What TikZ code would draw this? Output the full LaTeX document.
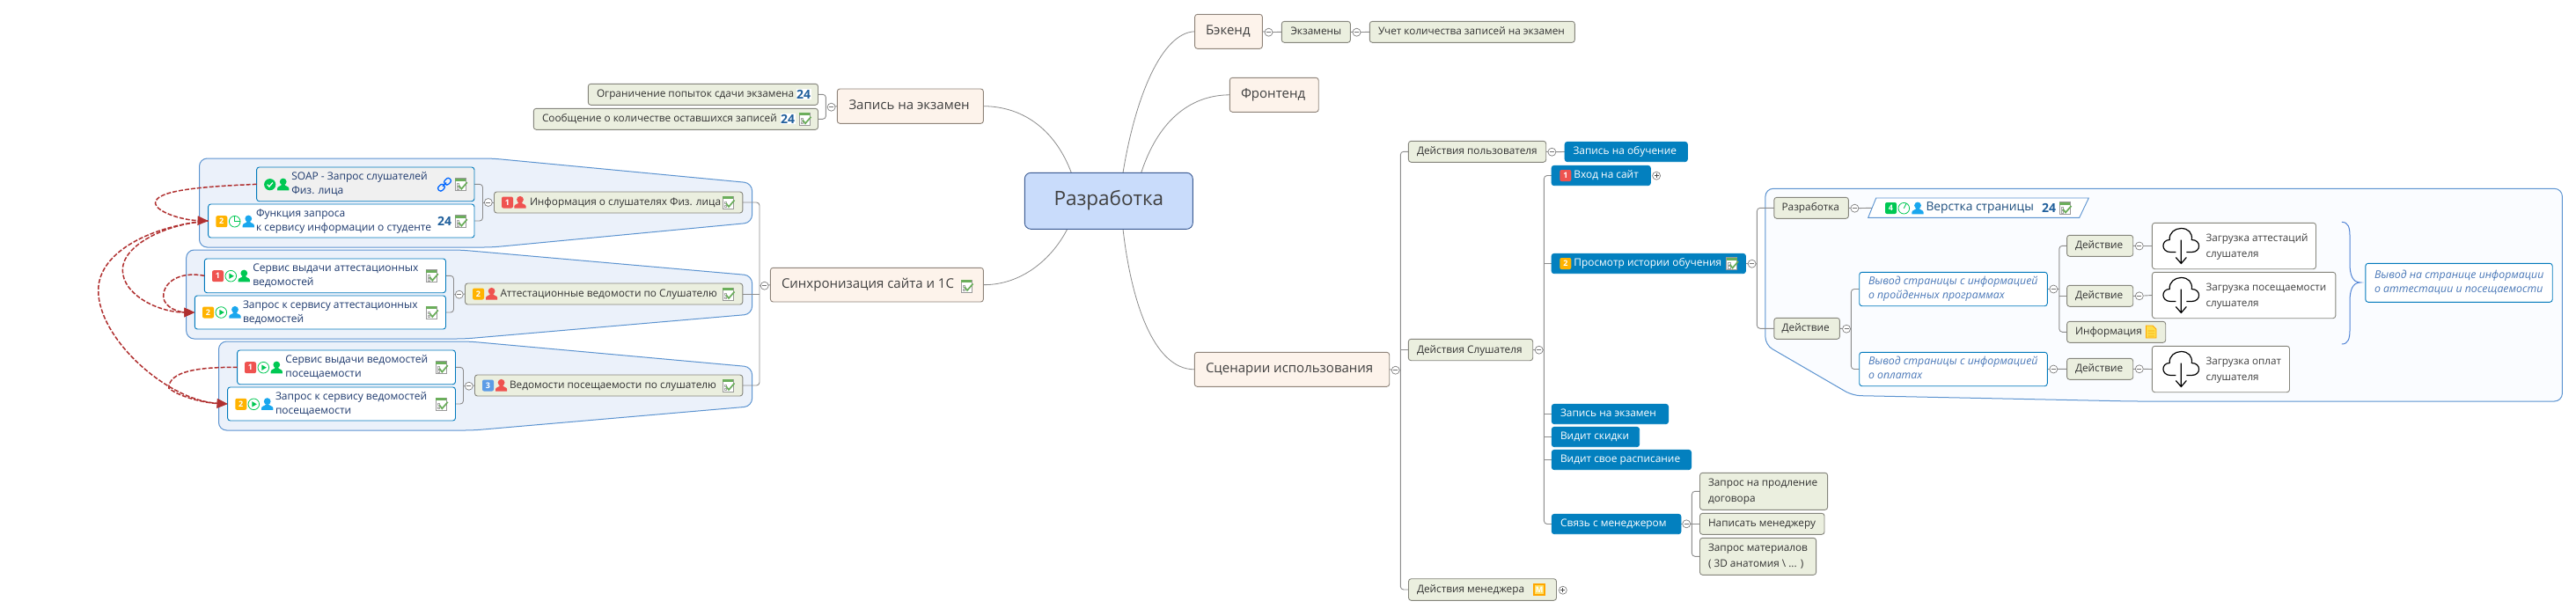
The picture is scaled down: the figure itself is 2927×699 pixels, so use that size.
\documentclass[tikz,border=0pt]{standalone}
\usepackage{fontspec}
\setmainfont{Open Sans}
\usetikzlibrary{arrows.meta}
\definecolor{grpfill}{HTML}{EBF1FA}
\definecolor{grpline}{HTML}{5B93D0}
\definecolor{bigfill}{HTML}{FAFCFF}
\definecolor{greenfill}{HTML}{EBEFDF}
\definecolor{greenline}{HTML}{85857C}
\definecolor{topfill}{HTML}{FDF3EB}
\definecolor{topline}{HTML}{8F847A}
\definecolor{mainfill}{HTML}{C9DCFB}
\definecolor{mainline}{HTML}{3A5A92}
\definecolor{bluefill}{HTML}{0380BF}
\definecolor{whiteline}{HTML}{0079BC}
\definecolor{navy}{HTML}{1E3A6E}
\definecolor{itblue}{HTML}{4A78B8}
\definecolor{linkc}{HTML}{8C8C8C}
\definecolor{redarrow}{HTML}{B03030}
\definecolor{cred}{HTML}{EF5350}
\definecolor{corange}{HTML}{FFB300}
\definecolor{cblue}{HTML}{5C9CE6}
\definecolor{cgreen}{HTML}{00C853}
\definecolor{psky}{HTML}{1AA7EE}
\definecolor{num}{HTML}{21609C}
\definecolor{taskg}{HTML}{6BAE5B}
\pgfdeclarelayer{grp}\pgfdeclarelayer{lnk}
\pgfsetlayers{grp,lnk,main}
\newcounter{icn}
\newcommand\fsz[2]{\fontsize{#1}{#2}\selectfont}
\tikzset{
  anybox/.style={draw,line width=0.9pt,rounded corners=3pt,outer sep=0pt},
  greenbox/.style={anybox,fill=greenfill,draw=greenline,text=black!80,font=\fsz{11.8}{18}},
  leafbox/.style={anybox,fill=white,draw=greenline,text=black!75,font=\fsz{11.7}{18}},
  topbox/.style={anybox,fill=topfill,draw=topline,text=black!75,font=\fsz{15}{18}},
  mainbox/.style={anybox,fill=mainfill,draw=mainline,text=black!75,rounded corners=7pt,font=\fsz{22.5}{26}},
  bluebox/.style={anybox,fill=bluefill,draw=bluefill,text=white,font=\fsz{11.9}{16}},
  whitebox/.style={anybox,fill=white,draw=whiteline,text=navy,font=\fsz{12}{16}},
  greybox/.style={whitebox,fill=black!6},
  itbox/.style={whitebox,text=itblue,font=\fsz{12.3}{16}\itshape},
  conn/.style={draw=linkc,line width=0.9pt,rounded corners=3.5pt},
  curve/.style={draw=linkc,line width=0.8pt},
  grpshape/.style={fill=grpfill,draw=grpline,line width=1pt,rounded corners=9pt},
  bigshape/.style={fill=bigfill,draw=grpline,line width=1pt,rounded corners=9pt},
  redlink/.style={draw=redarrow,line width=1.5pt,dash pattern=on 5pt off 2pt,-{Triangle[length=12pt,width=10.5pt,fill=redarrow]}},
  collapse/.style={circle,draw=black!50,fill=white,line width=0.7pt,minimum size=9pt,inner sep=0pt,outer sep=0pt},
}
\newcommand\bx[8]{%
  \pgfmathsetmacro\bxW{#4-#2}\pgfmathsetmacro\bxH{#5-#3}%
  \pgfmathsetmacro\bxX{(#2+#4)/2}\pgfmathsetmacro\bxY{(#3+#5)/2}\pgfmathsetmacro\bxP{#6-#2}%
  \node[#7,minimum width=\bxW pt,minimum height=\bxH pt,inner xsep=0pt,inner ysep=0pt] (#1) at (\bxX,\bxY) {\makebox[\bxW pt][l]{\hspace*{\bxP pt}\raisebox{-0.6pt}{\begin{tabular}{@{}l@{}}#8\end{tabular}}}};}
\newcommand\cminus[3]{\node[collapse] (#1) at (#2,#3) {};\draw[black!55,line width=0.8pt] (#2-2.5,#3) -- (#2+2.5,#3);}
\newcommand\cplus[3]{\node[collapse] (#1) at (#2,#3) {};\draw[black!70,line width=0.8pt] (#2-2.5,#3) -- (#2+2.5,#3) (#2,#3-2.5) -- (#2,#3+2.5);}
\newcommand\icPrio[4]{\stepcounter{icn}\node[fill=#4,rounded corners=2pt,minimum size=13pt,inner sep=0pt,text=white,font=\fsz{9}{9}\bfseries] (ic\arabic{icn}) at (#1+6.5,#2) {#3};}
\newcommand\icPerson[3]{\fill[#3] (#1,#2-3.2) circle (3.9);\fill[#3] (#1-6.6,#2+6.6) -- (#1-6.6,#2+4.4) .. controls (#1-6.6,#2+2) and (#1-2.2,#2+2) .. (#1-1.6,#2) -- (#1+1.6,#2) .. controls (#1+2.2,#2+2) and (#1+6.6,#2+2) .. (#1+6.6,#2+4.4) -- (#1+6.6,#2+6.6) -- cycle;}
\newcommand\icTask[2]{\begin{scope}[shift={(#1,#2)}]
  \fill[white] (0,-7) rectangle (12,7);\draw[black!40,line width=0.8pt] (0,-7) rectangle (12,7);
  \fill[taskg] (0,-7) rectangle (12,-4);
  \draw[black!35,line width=0.7pt] (2,-1) rectangle (4.5,1.5) (2,3) rectangle (4.5,5.5);
  \draw[taskg,line width=1.7pt] (4,1) -- (7,5) -- (13.5,-2.5);
\end{scope}}
\newcommand\icPlay[2]{\draw[cgreen,line width=0.8pt,fill=white] (#1,#2) circle (6.3);\fill[cgreen] (#1-2,#2-3.2) -- (#1+3.5,#2) -- (#1-2,#2+3.2) -- cycle;}
\newcommand\icClock[2]{\draw[cgreen,line width=0.8pt,fill=white] (#1,#2) circle (6.3);\draw[cgreen,line width=0.8pt] (#1,#2-6.3) -- (#1,#2) -- (#1+6.3,#2);}
\newcommand\icClockB[2]{\draw[cgreen,line width=0.8pt,fill=white] (#1,#2) circle (6.3);\draw[cgreen,line width=0.8pt] (#1+2.8,#2-5.6) -- (#1,#2);}
\newcommand\icCheck[2]{\fill[cgreen] (#1,#2) circle (6.6);\draw[white,line width=1.3pt] (#1-3,#2) -- (#1-0.8,#2+2.3) -- (#1+3.2,#2-2.2);}
\newcommand\icTF[2]{\stepcounter{icn}\node[fill=white,inner sep=0.5pt,text=num,font=\fsz{14}{14}\bfseries] (ic\arabic{icn}) at (#1,#2) {24};}
\newcommand\icLink[2]{\begin{scope}[shift={(#1,#2)},rotate=45]
  \draw[blue!60!cyan,line width=1.3pt,rounded corners=2.5pt] (-1,-3) rectangle (-9,3);
  \draw[blue!60!cyan,line width=1.3pt,rounded corners=2.5pt] (1,-3) rectangle (9,3);
  \draw[blue!60!cyan,line width=1.3pt] (-3,0) -- (3,0);
\end{scope}}
\newcommand\icCloud[2]{\begin{scope}[shift={(#1,#2)}]
  \draw[black,line width=1.2pt,line join=round] (-6,7) -- (-12,7) .. controls (-23,7) and (-23,-7) .. (-13,-7) .. controls (-14,-15) and (-7,-20) .. (0,-20) .. controls (8,-20) and (13,-15) .. (12,-7) .. controls (23,-7) and (23,7) .. (12,7) -- (6,7);
  \draw[black,line width=1.2pt,line join=round] (0,-7) -- (0,20) (-6,13) -- (0,20) -- (6,13);
\end{scope}}
\begin{document}
\begin{tikzpicture}[x=1pt,y=-1pt]
\useasboundingbox (0,0) rectangle (2927,699);
% ---- groups
\begin{pgfonlayer}{grp}
\fill[white] (0,0) rectangle (2927,699);
\path[grpshape] (226.5,180) -- (559,180) -- (854.6,208) -- (854.6,253) -- (559,281) -- (226.5,281) -- cycle;
\path[grpshape] (211.7,284) -- (523,284) -- (854.6,313) -- (854.6,357) -- (528,385) -- (211.7,385) -- cycle;
\path[grpshape] (248.5,388) -- (533,388) -- (854.6,417) -- (854.6,461.7) -- (537.5,489) -- (248.5,489) -- cycle;
\path[bigshape] (2005.9,214.3) -- (2911.4,214.3) -- (2911.4,456) -- (2422,456) -- (2105,449.5) -- (2005.9,392) -- cycle;
\end{pgfonlayer}
% ---- central
\bx{main}{1164.3}{196.3}{1355.3}{260.3}{1197.5}{mainbox}{Разработка}
\coordinate (mA) at (1217.3,196.3);
\coordinate (mB) at (1212.7,260.3);
\coordinate (mC) at (1276,196.3);
\coordinate (mD) at (1296.7,196.3);
\coordinate (mE) at (1276,260.3);
% ---- left branch exam
\bx{zap}{951.3}{101}{1117.4}{140.3}{964.5}{topbox}{Запись на экзамен}
\bx{ogr}{668.3}{95.3}{929.5}{119.3}{678}{greenbox}{Ограничение попыток сдачи экзамена}
\bx{soob}{606.3}{123.3}{929.5}{147.3}{616}{greenbox}{Сообщение о количестве оставшихся записей}
\icTF{913}{107}
\icTF{895}{135}
\icTask{908}{135.3}
\cminus{cZap}{944.6}{121.7}
\coordinate (bZap) at (938.4,121.7);
% ---- sync branch
\bx{syn}{875.4}{304.3}{1117.4}{343}{888}{topbox}{Синхронизация сайта и 1С}
\icTask{1092}{325}
\cminus{cSyn}{868.7}{324.7}
\coordinate (tSyn) at (863,324.7);
\bx{inf}{561.5}{218}{843.8}{242}{602}{greenbox}{Информация о слушателях Физ. лица}
\icPrio{570}{230}{1}{cred}\icPerson{591}{230}{cred}\icTask{821}{230}
\bx{att}{528.5}{322}{843.8}{346}{568.7}{greenbox}{Аттестационные ведомости по Слушателю}
\icPrio{537}{334}{2}{corange}\icPerson{558.6}{334}{cred}\icTask{821}{334}
\bx{ved}{539.5}{426}{843.8}{450}{579}{greenbox}{Ведомости посещаемости по слушателю}
\icPrio{548}{438}{3}{cblue}\icPerson{569.6}{438}{cred}\icTask{821}{438}
\cminus{cInf}{554.8}{230}\coordinate (bInf) at (548.5,230);
\cminus{cAtt}{521.8}{334.7}\coordinate (bAtt) at (515.5,334.7);
\cminus{cVed}{532.8}{438.7}\coordinate (bVed) at (526.5,438.7);
\bx{soap}{291.6}{190}{539}{228.7}{331.3}{greybox}{SOAP - Запрос слушателей\\Физ. лица}
\icCheck{306.7}{209.7}\icPerson{321.7}{209.7}{cgreen}\icLink{505}{209.7}\icTask{517.3}{209.7}
\bx{funk}{236.6}{232}{539}{270}{291}{whitebox}{Функция запроса\\к сервису информации о студенте}
\icPrio{245.3}{251.7}{2}{corange}\icClock{266.7}{251.7}\icPerson{282.3}{251.7}{psky}\icTF{505}{251}\icTask{517.3}{251.7}
\bx{serA}{232.3}{294}{506.5}{332.7}{287.3}{whitebox}{Сервис выдачи аттестационных\\ведомостей}
\icPrio{241}{313.7}{1}{cred}\icPlay{262.3}{313.7}\icPerson{277.3}{313.7}{cgreen}\icTask{484.3}{313.7}
\bx{zapA}{221.3}{336}{506.5}{374}{276}{whitebox}{Запрос к сервису аттестационных\\ведомостей}
\icPrio{230}{355}{2}{corange}\icPlay{251.3}{355}\icPerson{267}{355}{psky}\icTask{484.3}{355}
\bx{serB}{269.6}{398}{517.5}{436.7}{324.3}{whitebox}{Сервис выдачи ведомостей\\посещаемости}
\icPrio{278}{417.7}{1}{cred}\icPlay{299.3}{417.7}\icPerson{314.3}{417.7}{cgreen}\icTask{495.3}{417.7}
\bx{zapB}{258.6}{440}{517.5}{478}{313}{whitebox}{Запрос к сервису ведомостей\\посещаемости}
\icPrio{267.3}{459.3}{2}{corange}\icPlay{288.3}{459.3}\icPerson{303.7}{459.3}{psky}\icTask{495.3}{459.3}
% ---- back / front
\bx{bek}{1357.6}{16.3}{1434.4}{55.3}{1370}{topbox}{Бэкенд}
\cminus{cBek}{1441.5}{36.7}
\bx{ekz}{1456.3}{24.3}{1534.4}{48.3}{1466.5}{greenbox}{Экзамены}
\cminus{cEkz}{1541.5}{36.7}
\bx{uch}{1556.3}{24.3}{1789.3}{48.3}{1566}{greenbox}{Учет количества записей на экзамен}
\bx{fro}{1397.3}{88.3}{1498.2}{127.3}{1410}{topbox}{Фронтенд}
% ---- scenarios
\bx{sce}{1357.3}{400.3}{1578.7}{439.3}{1370}{topbox}{Сценарии использования}
\cminus{cSce}{1585.7}{420.7}
\coordinate (t1) at (1591.3,420.7);
\bx{dp}{1600.4}{160.3}{1756.7}{184.3}{1610}{greenbox}{Действия пользователя}
\cminus{cDp}{1763.4}{172.7}
\bx{zo}{1778.1}{161.3}{1917.4}{183.7}{1787.5}{bluebox}{Запись на обучение}
\bx{ds}{1600.3}{385.3}{1741.7}{409.7}{1610}{greenbox}{Действия Слушателя}
\cminus{cDs}{1748.7}{397.7}
\coordinate (t2) at (1754.4,397.7);
\bx{dm}{1600.5}{657.7}{1768.5}{682.3}{1610}{greenbox}{Действия менеджера}
\cplus{cDm}{1775.8}{670.7}
\fill[orange!70!yellow] (1742,663) rectangle (1756,677);
\node[fill=orange!40!yellow!60,minimum size=10pt,inner sep=0pt,text=white,font=\fsz{9}{9}\bfseries] (icM) at (1749,670) {M};
\bx{vh}{1763}{188.3}{1875.4}{210.7}{1788.4}{bluebox}{Вход на сайт}
\icPrio{1772.3}{199.5}{1}{cred}
\cplus{cVh}{1882.1}{199.7}
\bx{pr}{1763}{288.3}{1983.5}{310.7}{1788.4}{bluebox}{Просмотр истории обучения}
\icPrio{1772.3}{299.5}{2}{corange}\icTask{1961.6}{299.5}
\cminus{cPr}{1990.6}{299.7}
\coordinate (t3) at (1996.4,299.7);
\bx{ze}{1763.2}{459.3}{1895.6}{481.7}{1773}{bluebox}{Запись на экзамен}
\bx{vs}{1763.2}{485.3}{1862.7}{507.7}{1773}{bluebox}{Видит скидки}
\bx{vr}{1763.2}{511.3}{1921.6}{533.7}{1773}{bluebox}{Видит свое расписание}
\bx{sv}{1763.2}{584.3}{1910}{606.7}{1773}{bluebox}{Связь с менеджером}
\cminus{cSv}{1916.2}{595.3}
\coordinate (bSv) at (1922.4,595.3);
\bx{zp}{1931.5}{537.3}{2076.6}{579.3}{1941}{greenbox}{Запрос на продление\\договора}
\bx{nm}{1931.5}{583.3}{2073}{607.3}{1941}{greenbox}{Написать менеджеру}
\bx{zm}{1931.5}{611.3}{2063.6}{653.3}{1941}{greenbox}{Запрос материалов\\( 3D анатомия \textbackslash\ ... )}
% ---- big group contents
\bx{raz}{2015.8}{224.3}{2100.4}{248.3}{2024.6}{greenbox}{Разработка}
\cminus{cRaz}{2107.4}{236.7}
\coordinate (verW) at (2127.2,236.3);
\path[draw=grpline,fill=white,line width=0.9pt] (2131.7,225) -- (2373.3,225) -- (2362.7,247.3) -- (2122.7,247.3) -- cycle;
\node[anchor=west,inner sep=0pt,text=num!80!black,font=\fsz{13.8}{16}] (verT) at (2188.3,236.3) {Верстка страницы};
\icPrio{2142}{236.5}{4}{cgreen}\icClockB{2163.3}{236.7}\icPerson{2179}{236.7}{psky}\icTF{2328}{236}\icTask{2340}{236.5}
\bx{de}{2015.8}{361.3}{2090.4}{385.3}{2024.6}{greenbox}{Действие}
\cminus{cDe}{2098}{373.7}
\coordinate (bDe) at (2103.3,373.7);
\bx{vy1}{2112.7}{309.3}{2326.3}{347.7}{2123}{itbox}{Вывод страницы с информацией\\о пройденных программах}
\bx{vy2}{2112.7}{400.3}{2326.3}{438.7}{2123}{itbox}{Вывод страницы с информацией\\о оплатах}
\cminus{cV1}{2333.3}{328.5}
\cminus{cV2}{2333.3}{419.5}
\coordinate (bV1) at (2339.8,328.5);
\bx{da}{2348.6}{267.3}{2423.7}{291.3}{2358}{greenbox}{Действие}
\bx{db}{2348.6}{324.3}{2423.7}{348.3}{2358}{greenbox}{Действие}
\bx{in}{2348.6}{365.3}{2460.7}{389.3}{2358}{greenbox}{Информация}
\bx{dc}{2348.6}{407.3}{2423.7}{431.3}{2358}{greenbox}{Действие}
\fill[yellow!70!orange!70] (2438.4,370) -- (2446,370) -- (2450,374) -- (2450,384) -- (2438.4,384) -- cycle;
\draw[orange!70!yellow,line width=0.8pt] (2438.4,370) -- (2446,370) -- (2450,374) -- (2450,384) -- (2438.4,384) -- cycle (2440.5,376) -- (2448,376) (2440.5,379) -- (2448,379) (2440.5,382) -- (2448,382);
\cminus{cDa}{2430.8}{279.5}
\cminus{cDb}{2430.8}{336.3}
\cminus{cDc}{2430.8}{419.3}
\bx{la}{2445.4}{253.3}{2631.5}{305.7}{2506.5}{leafbox}{Загрузка аттестаций\\слушателя}
\bx{lb}{2445.4}{309.3}{2653.8}{361.7}{2506.5}{leafbox}{Загрузка посещаемости\\слушателя}
\bx{lc}{2445.4}{393.3}{2601.5}{445.7}{2506.5}{leafbox}{Загрузка оплат\\слушателя}
\icCloud{2478.3}{279.5}\icCloud{2478.3}{335.5}\icCloud{2478.3}{419.5}
\draw[grpline!90!blue,line width=1pt] (2660.8,252.3) .. controls (2668,252.5) and (2670,258) .. (2670,268) -- (2670,300) .. controls (2670,312) and (2673,321) .. (2682,321) .. controls (2673,321) and (2670,330) .. (2670,342) -- (2670,375) .. controls (2670,385) and (2668,391) .. (2660.8,391);
\bx{vyv}{2687.8}{299.3}{2900.2}{343.3}{2698}{itbox}{Вывод на странице информации\\о аттестации и посещаемости}
% ---- connectors
\begin{pgfonlayer}{lnk}
\draw[curve] (zap.east) .. controls (1165,121) and (1200,150) .. (mA);
\draw[curve] (syn.east) .. controls (1160,324) and (1195,295) .. (mB);
\draw[curve] (bek.west) .. controls (1320,37) and (1290,110) .. (mC);
\draw[curve] (fro.west) .. controls (1350,108) and (1315,140) .. (mD);
\draw[curve] (sce.west) .. controls (1310,420) and (1285,340) .. (mE);
\draw[conn] (zap.west) -- (cZap);
\draw[conn] (ogr.east) -- (ogr.east -| bZap) -- (soob.east -| bZap) -- (soob.east);
\draw[conn] (syn.west) -- (cSyn) -- (tSyn);
\draw[conn] (inf.east) -- (inf.east -| tSyn) -- (ved.east -| tSyn) -- (ved.east);
\draw[conn] (att.east) -- (att.east -| tSyn);
\draw[conn] (inf.west) -- (cInf);
\draw[conn] (soap.east) -- (soap.east -| bInf) -- (funk.east -| bInf) -- (funk.east);
\draw[conn] (bInf) -- (cInf);
\draw[conn] (att.west) -- (cAtt) -- (bAtt);
\draw[conn] (serA.east) -- (serA.east -| bAtt) -- (zapA.east -| bAtt) -- (zapA.east);
\draw[conn] (ved.west) -- (cVed) -- (bVed);
\draw[conn] (serB.east) -- (serB.east -| bVed) -- (zapB.east -| bVed) -- (zapB.east);
\draw[conn] (bek.east) -- (cBek) -- (ekz.west);
\draw[conn] (ekz.east) -- (cEkz) -- (uch.west);
\draw[conn] (sce.east) -- (cSce) -- (t1);
\draw[conn] (dp.west) -- (dp.west -| t1) -- (dm.west -| t1) -- (dm.west);
\draw[conn] (ds.west) -- (ds.west -| t1);
\draw[conn] (dp.east) -- (cDp) -- (zo.west);
\draw[conn] (ds.east) -- (cDs) -- (t2);
\draw[conn] (vh.west) -- (vh.west -| t2) -- (sv.west -| t2) -- (sv.west);
\draw[conn] (pr.west) -- (pr.west -| t2);
\draw[conn] (ze.west) -- (ze.west -| t2);
\draw[conn] (vs.west) -- (vs.west -| t2);
\draw[conn] (vr.west) -- (vr.west -| t2);
\draw[conn] (sv.east) -- (cSv) -- (bSv);
\draw[conn] (zp.west) -- (zp.west -| bSv) -- (zm.west -| bSv) -- (zm.west);
\draw[conn] (nm.west) -- (nm.west -| bSv);
\draw[conn] (pr.east) -- (cPr) -- (t3);
\draw[conn] (raz.west) -- (raz.west -| t3) -- (de.west -| t3) -- (de.west);
\draw[conn] (raz.east) -- (cRaz) -- (verW);
\draw[conn] (de.east) -- (cDe) -- (bDe);
\draw[conn] (vy1.west) -- (vy1.west -| bDe) -- (vy2.west -| bDe) -- (vy2.west);
\draw[conn] (vy1.east) -- (cV1) -- (bV1);
\draw[conn] (da.west) -- (da.west -| bV1) -- (in.west -| bV1) -- (in.west);
\draw[conn] (db.west) -- (db.west -| bV1);
\draw[conn] (vy2.east) -- (cV2) -- (dc.west);
\draw[conn] (da.east) -- (cDa) -- (la.west);
\draw[conn] (db.east) -- (cDb) -- (lb.west);
\draw[conn] (dc.east) -- (cDc) -- (lc.west);
\end{pgfonlayer}
% ---- red dashed relations
\draw[redlink] (soap.west) .. controls (230,212) and (176,216) .. (176.5,231) .. controls (177,240) and (205,250) .. (funk.west);
\draw[redlink] (funk.west) .. controls (190,254) and (139,278) .. (139.3,307) .. controls (139.5,335) and (180,355) .. (zapA.west);
\draw[redlink] (funk.west) .. controls (175,256) and (111.7,285) .. (111.7,330) .. controls (111.7,385) and (190,455) .. (zapB.west);
\draw[redlink] (serA.west) .. controls (205,308) and (185.5,320) .. (185.7,337) .. controls (186,350) and (205,355) .. (zapA.west);
\draw[redlink] (serB.west) .. controls (225,417) and (192,422) .. (191.7,441) .. controls (205,452) and (235,458) .. (zapB.west);
\end{tikzpicture}
\end{document}
